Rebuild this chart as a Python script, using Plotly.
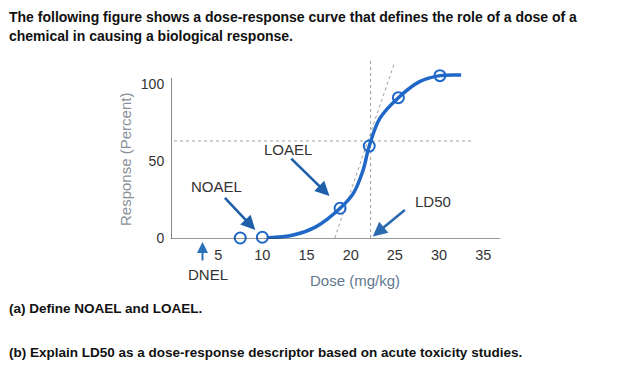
import plotly.graph_objects as go

# Data
curve_dose = [10.5, 13.5, 16.1, 18.8, 20.3, 21.4, 22.1, 23.3, 25.4, 27.8, 30.1, 32.5]
curve_resp = [0.0, 1.9, 7.4, 19.3, 29.0, 44.0, 59.7, 77.7, 91.1, 101.5, 105.4, 105.8]
point_dose = [7.5, 10.0, 18.8, 22.1, 25.4, 30.1]
point_resp = [0.0, 0.5, 19.3, 59.7, 91.1, 105.4]
x_ticks = [5, 10, 15, 20, 25, 30, 35]
y_ticks = [0, 50, 100]
ld50_dose = 22.25
ref_resp = 63.0
slope_line_dose = [18.2, 25.0]
slope_line_resp = [0.0, 114.5]

BLUE = "#2068c8"
ARROW = "#1f5ea8"
FONT = "Liberation Sans, Arial, sans-serif"

# page has an 8px body margin: work in reference pixels, shift by 8
OFF = 8
W, H = 641 - 2 * OFF, 368 - 2 * OFF
PL, PR, PT, PB = 171 - OFF, 500 - OFF, 55 - OFF, 239 - OFF  # plot box in figure px
X0, X1 = -0.34, 36.9
Y0, Y1 = -0.65, 118.8


def paper(x, y):
    """reference pixel -> paper coords"""
    return ((x - OFF - PL) / (PR - PL), (PB - (y - OFF)) / (PB - PT))


fig = go.Figure()

dash = dict(color="#a0a0a0", width=1, dash="dot")
fig.add_trace(go.Scatter(x=[0, 33.7], y=[ref_resp, ref_resp], mode="lines", line=dash, hoverinfo="skip"))
fig.add_trace(go.Scatter(x=[ld50_dose, ld50_dose], y=[0, 115.5], mode="lines", line=dash, hoverinfo="skip"))
fig.add_trace(go.Scatter(x=slope_line_dose, y=slope_line_resp, mode="lines", line=dash, hoverinfo="skip"))

fig.add_trace(go.Scatter(x=curve_dose, y=curve_resp, mode="lines",
                         line=dict(color=BLUE, width=3.5, shape="spline", smoothing=1.0)))
fig.add_trace(go.Scatter(x=point_dose, y=point_resp, mode="markers", cliponaxis=False,
                         marker=dict(symbol="circle-open", size=11, color=BLUE,
                                     line=dict(width=2, color=BLUE))))

fig.add_shape(type="line", xref="x", yref="y", x0=X0, x1=X1, y0=Y0, y1=Y0,
              line=dict(color="#333", width=1.2))
fig.add_shape(type="line", xref="x", yref="y", x0=X0, x1=X0, y0=Y0, y1=104,
              line=dict(color="#333", width=1.2))


def arrow(x, y, ax, ay, color=ARROW, width=2.6):
    fig.add_annotation(x=x, y=y, ax=ax, ay=ay, xref="x", yref="y", axref="x", ayref="y",
                       text="", showarrow=True, arrowhead=2, arrowsize=1.1,
                       arrowwidth=width, arrowcolor=color)


arrow(9.2, 5.2, 5.6, 27.0)
arrow(17.6, 27.3, 13.1, 52.5)
arrow(22.5, 1.0, 26.3, 19.0, color="#2a6aae")


def label(x, y, text, size=15, color="#333"):
    fig.add_annotation(x=x, y=y, xref="x", yref="y", text=text, showarrow=False,
                       font=dict(family=FONT, size=size, color=color))


label(4.8, 33.3, "NOAEL")
label(12.9, 57.6, "LOAEL")
label(29.3, 23.6, "LD50")


def ptext(x, y, text, size=13, color="#111", bold=True, angle=0, xanchor="left"):
    px, py = paper(x, y)
    fig.add_annotation(x=px, y=py, xref="paper", yref="paper",
                       text=f"<b>{text}</b>" if bold else text, showarrow=False,
                       xanchor=xanchor, yanchor="middle", textangle=angle,
                       font=dict(family=FONT, size=size, color=color))


# DNEL arrow (below axis, paper coords + pixel tail offset)
hx, hy = paper(202.5, 242)
fig.add_annotation(x=hx, y=hy, ax=0, ay=20, xref="paper", yref="paper", axref="pixel", ayref="pixel",
                   text="", showarrow=True, arrowhead=2, arrowsize=1.1, arrowwidth=2,
                   arrowcolor="#2a70b8")
ptext(208, 274, "DNEL", size=15, bold=False, color="#333", xanchor="center")

ptext(355, 280, "Dose (mg/kg)", size=15, bold=False, color="#62788f", xanchor="center")
ptext(125, 160, "Response (Percent)", size=15, bold=False, color="#8a9099", angle=-90, xanchor="center")
ptext(7, 17, "The following figure shows a dose-response curve that defines the role of a dose of a", size=14)
ptext(7, 36, "chemical in causing a biological response.", size=14)
ptext(7, 308, "(a) Define NOAEL and LOAEL.", size=13.5)
ptext(7, 352, "(b) Explain LD50 as a dose-response descriptor based on acute toxicity studies.", size=13.5)

fig.update_layout(
    width=W, height=H, margin=dict(l=PL, r=W - PR, t=PT, b=H - PB, autoexpand=False),
    paper_bgcolor="white", plot_bgcolor="white", showlegend=False,
    font=dict(family=FONT, size=14, color="#333"),
    xaxis=dict(range=[X0, X1], tickvals=x_ticks, showgrid=False, zeroline=False,
               showline=False, ticks="outside", ticklen=3, tickcolor="rgba(0,0,0,0)",
               tickfont=dict(size=14.5, color="#333")),
    yaxis=dict(range=[Y0, Y1], tickvals=y_ticks, showgrid=False, zeroline=False,
               showline=False, ticks="outside", ticklen=3, tickcolor="rgba(0,0,0,0)",
               tickfont=dict(size=14, color="#333")),
)

fig.write_html("out.html")
